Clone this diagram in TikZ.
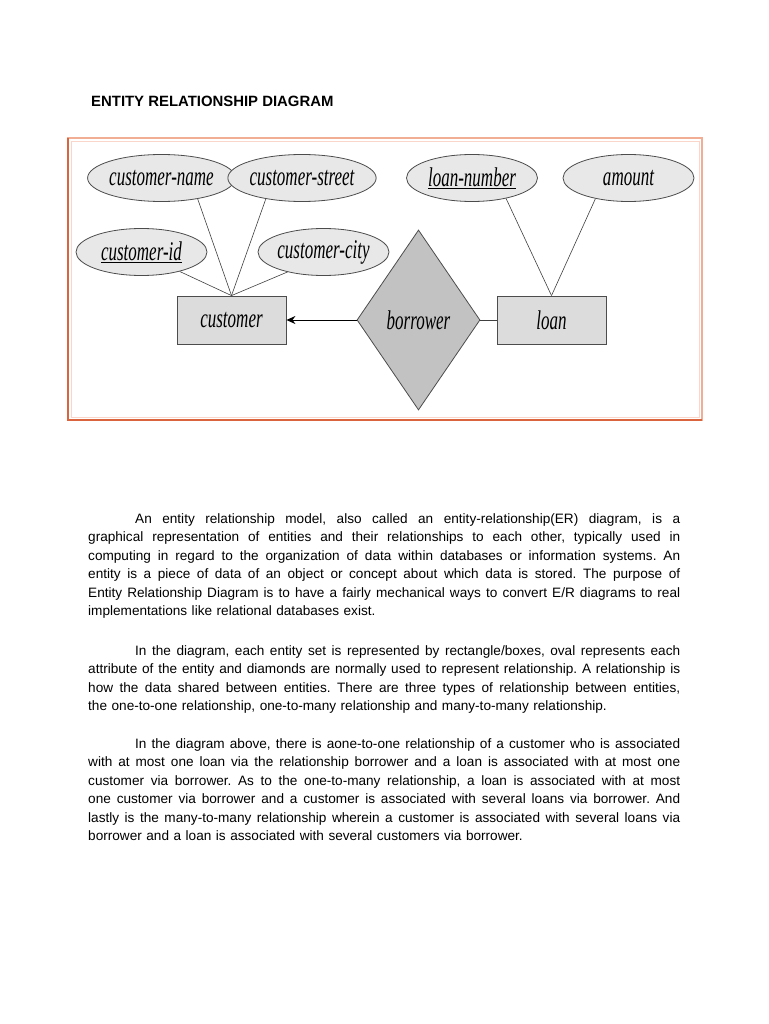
\documentclass[tikz,border=0pt]{standalone}
\usepackage{fontspec}
\setmainfont{Liberation Sans}
\newfontfamily\erfont[FakeStretch=0.63]{Liberation Serif}
\usetikzlibrary{shapes.geometric,arrows.meta}
\frenchspacing

\definecolor{framedark}{HTML}{D9643E}
\definecolor{framelight}{HTML}{F2AE94}
\definecolor{attrfill}{HTML}{E8E8E8}
\definecolor{entfill}{HTML}{DCDCDC}
\definecolor{relfill}{HTML}{C2C2C2}

\newcommand{\fullline}[1]{\makebox[592pt][s]{\spaceskip=0pt\xspaceskip=0pt #1}}
\newcommand{\firstline}[1]{\hspace*{47pt}\makebox[545pt][s]{\spaceskip=0pt\xspaceskip=0pt #1}}

\begin{document}
\begin{tikzpicture}[x=1pt,y=-1pt,
  attr node/.style={ellipse,draw=black!70,fill=attrfill,inner sep=0pt,line width=0.8pt,
    minimum width=131pt,minimum height=47pt,font=\erfont\itshape\fontsize{27}{30}\selectfont},
  entity node/.style={rectangle,draw=black!70,fill=entfill,inner sep=0pt,line width=0.8pt,
    minimum width=109pt,minimum height=48pt,font=\erfont\itshape\fontsize{27}{30}\selectfont},
  rel node/.style={diamond,draw=black!70,fill=relfill,inner sep=0pt,aspect=0.68,line width=0.8pt,
    minimum width=123pt,minimum height=180pt,font=\erfont\itshape\fontsize{27}{30}\selectfont},
  para/.style={anchor=base west,inner sep=0pt,text width=592pt,align=left,
    font=\fontsize{13.6}{18.5}\selectfont}]

  \useasboundingbox[fill=white] (0,0) rectangle (768,1024);

  \node[anchor=base west,inner sep=0pt,font=\bfseries\fontsize{14.9}{18}\selectfont]
    (title) at (91,107) {ENTITY RELATIONSHIP DIAGRAM};

  % frame round the diagram
  \draw[framelight,line width=2.2pt] (68,138) rectangle (702,420);
  \draw[framelight!50,line width=0.8pt] (71,141) rectangle (699,417);
  \draw[framedark,line width=2.8pt] (68,138) -- (68,420) -- (702,420);

  \node[attr node] (cname) at (161.5,178) {customer-name};
  \node[attr node] (cstreet) at (302,178) {customer-street};
  \node[attr node] (cid) at (141.5,252) {\underline{customer-id}};
  \node[attr node] (ccity) at (323.5,252) {customer-city};
  \node[attr node] (lnumber) at (472,178) {\underline{loan-number}};
  \node[attr node] (amount) at (628.5,178) {amount};

  \node[entity node] (customer) at (231.5,320) {customer};
  \node[rel node] (borrower) at (418.5,320) {borrower};
  \node[entity node] (loan) at (551.5,320) {loan};

  \path[draw=black!75,line width=0.6pt]
   (cname.-30) edge (customer.north)
   (cstreet.-150) edge (customer.north)
   (cid.-27) edge (customer.north)
   (ccity.-151) edge (customer.north)
   (lnumber.-31) edge (loan.north)
   (amount.-148) edge (loan.north)
   (borrower.east) edge (loan.west);
  \draw[-{Stealth[length=9pt,width=8pt]},black,line width=1pt]
   (borrower.west) -- (customer.east);

  \node[para] (para1) at (88,523) {%
\firstline{An entity relationship model, also called an entity-relationship(ER) diagram, is a}\\
\fullline{graphical representation of entities and their relationships to each other, typically used in}\\
\fullline{computing in regard to the organization of data within databases or information systems. An}\\
\fullline{entity is a piece of data of an object or concept about which data is stored. The purpose of}\\
\fullline{Entity Relationship Diagram is to have a fairly mechanical ways to convert E/R diagrams to real}\\
implementations like relational databases exist.};

  \node[para] (para2) at (88,655) {%
\firstline{In the diagram, each entity set is represented by rectangle/boxes, oval represents each}\\
\fullline{attribute of the entity and diamonds are normally used to represent relationship. A relationship is}\\
\fullline{how the data shared between entities. There are three types of relationship between entities,}\\
the one-to-one relationship, one-to-many relationship and many-to-many relationship.};

  \node[para] (para3) at (88,748) {%
\firstline{In the diagram above, there is aone-to-one relationship of a customer who is associated}\\
\fullline{with at most one loan via the relationship borrower and a loan is associated with at most one}\\
\fullline{customer via borrower. As to the one-to-many relationship, a loan is associated with at most}\\
\fullline{one customer via borrower and a customer is associated with several loans via borrower. And}\\
\fullline{lastly is the many-to-many relationship wherein a customer is associated with several loans via}\\
borrower and a loan is associated with several customers via borrower.};
\end{tikzpicture}
\end{document}
